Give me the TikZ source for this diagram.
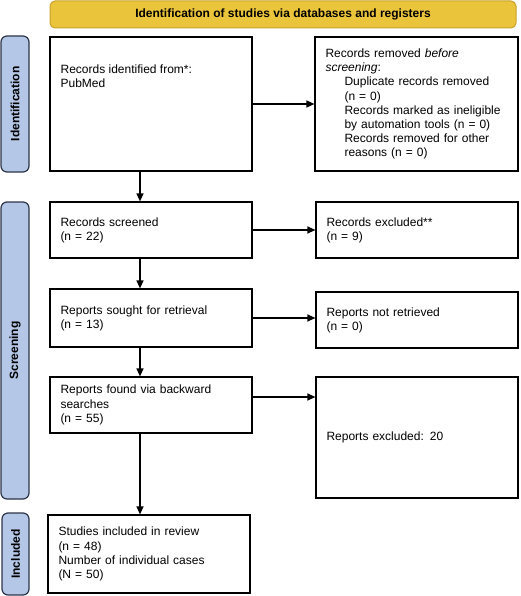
\documentclass[tikz,border=0pt]{standalone}
\usepackage{fontspec}
\setmainfont{Liberation Sans}
\usetikzlibrary{arrows.meta}
\definecolor{hdrfill}{HTML}{EAC43A}
\definecolor{hdrdraw}{HTML}{C8A22A}
\definecolor{barfill}{HTML}{B4C7E7}
\definecolor{bardraw}{HTML}{2B3448}
\begin{document}
\begin{tikzpicture}[x=1pt,y=-1pt,
  font=\fontsize{12}{14.2}\selectfont,
  box/.style={draw=black,line width=1.2pt,rectangle,inner xsep=10.5pt,inner ysep=0pt,
    align=left,text width=#1},
  box/.default=181pt,
  hdr/.style={draw=hdrdraw,fill=hdrfill,line width=1pt,rounded corners=5pt,
    minimum width=466pt,minimum height=27pt,font=\fontsize{12}{14.2}\selectfont\bfseries},
  sidebar/.style={draw=bardraw,fill=barfill,line width=1.2pt,rounded corners=6pt,minimum width=28pt},
  sidetext/.style={rotate=90,font=\fontsize{12}{14.2}\selectfont\bfseries},
  arr/.style={line width=1.2pt,-{Triangle[length=8pt,width=7pt]}}]
\useasboundingbox (0,0) rectangle (520,596);
% header
\node[hdr] (hdr) at (283,14.5) {Identification of studies via databases and registers};
% side bars
\node[sidebar,minimum height=136pt] (idbar) at (15,104) {};
\node[sidetext] (idtext) at (idbar.center) {Identification};
\node[sidebar,minimum height=297pt] (scrbar) at (15,350.5) {};
\node[sidetext] (scrtext) at (scrbar.center) {Screening};
\node[sidebar,minimum height=82pt,minimum width=27pt] (incbar) at (15.5,554) {};
\node[sidetext] (inctext) at (incbar.center) {Included};
% boxes
\node[box,minimum height=134pt] (box1) at (151,104) {};
\node[anchor=north west,inner sep=0pt,align=left] (box1text) at ([xshift=11pt,yshift=-28pt]box1.north west)
  {Records identified from*:\\PubMed};
\node[box=182pt,minimum height=134pt] (rem) at (416.5,104)
  {Records removed \textit{before}\\\textit{screening}:\\
   \hspace*{19pt}Duplicate records removed\\
   \hspace*{19pt}(n = 0)\\
   \hspace*{19pt}Records marked as ineligible\\
   \hspace*{19pt}by automation tools (n = 0)\\
   \hspace*{19pt}Records removed for other\\
   \hspace*{19pt}reasons (n = 0)};
\node[box,minimum height=56pt] (scr) at (151,230) {Records screened\\(n = 22)};
\node[box,minimum height=56pt] (exc) at (417,230) {Records excluded**\\(n = 9)};
\node[box,minimum height=58pt] (sought) at (151,318) {Reports sought for retrieval\\(n = 13)};
\node[box,minimum height=56pt] (notret) at (417,320) {Reports not retrieved\\(n = 0)};
\node[box,minimum height=56pt] (found) at (151,405) {Reports found via backward\\searches\\(n = 55)};
\node[box,minimum height=121pt] (rexc) at (417,437.5) {Reports excluded: 20};
\node[box,minimum height=78pt] (incl) at (149,554) {Studies included in review\\(n = 48)\\Number of individual cases\\(N = 50)};
% arrows
\draw[arr] (box1) -- (rem);
\draw[arr] (scr) -- (exc);
\draw[arr] (sought.east) -- (sought.east -| notret.west);
\draw[arr] ([yshift=8pt]found.east) -- ([yshift=8pt]found.east -| rexc.west);
\draw[arr] ([xshift=-11pt]box1.south) -- ([xshift=-11pt]box1.south |- scr.north);
\draw[arr] ([xshift=-11pt]scr.south) -- ([xshift=-11pt]scr.south |- sought.north);
\draw[arr] ([xshift=-11pt]sought.south) -- ([xshift=-11pt]sought.south |- found.north);
\draw[arr] ([xshift=-11pt]found.south) -- ([xshift=-11pt]found.south |- incl.north);
\end{tikzpicture}
\end{document}
